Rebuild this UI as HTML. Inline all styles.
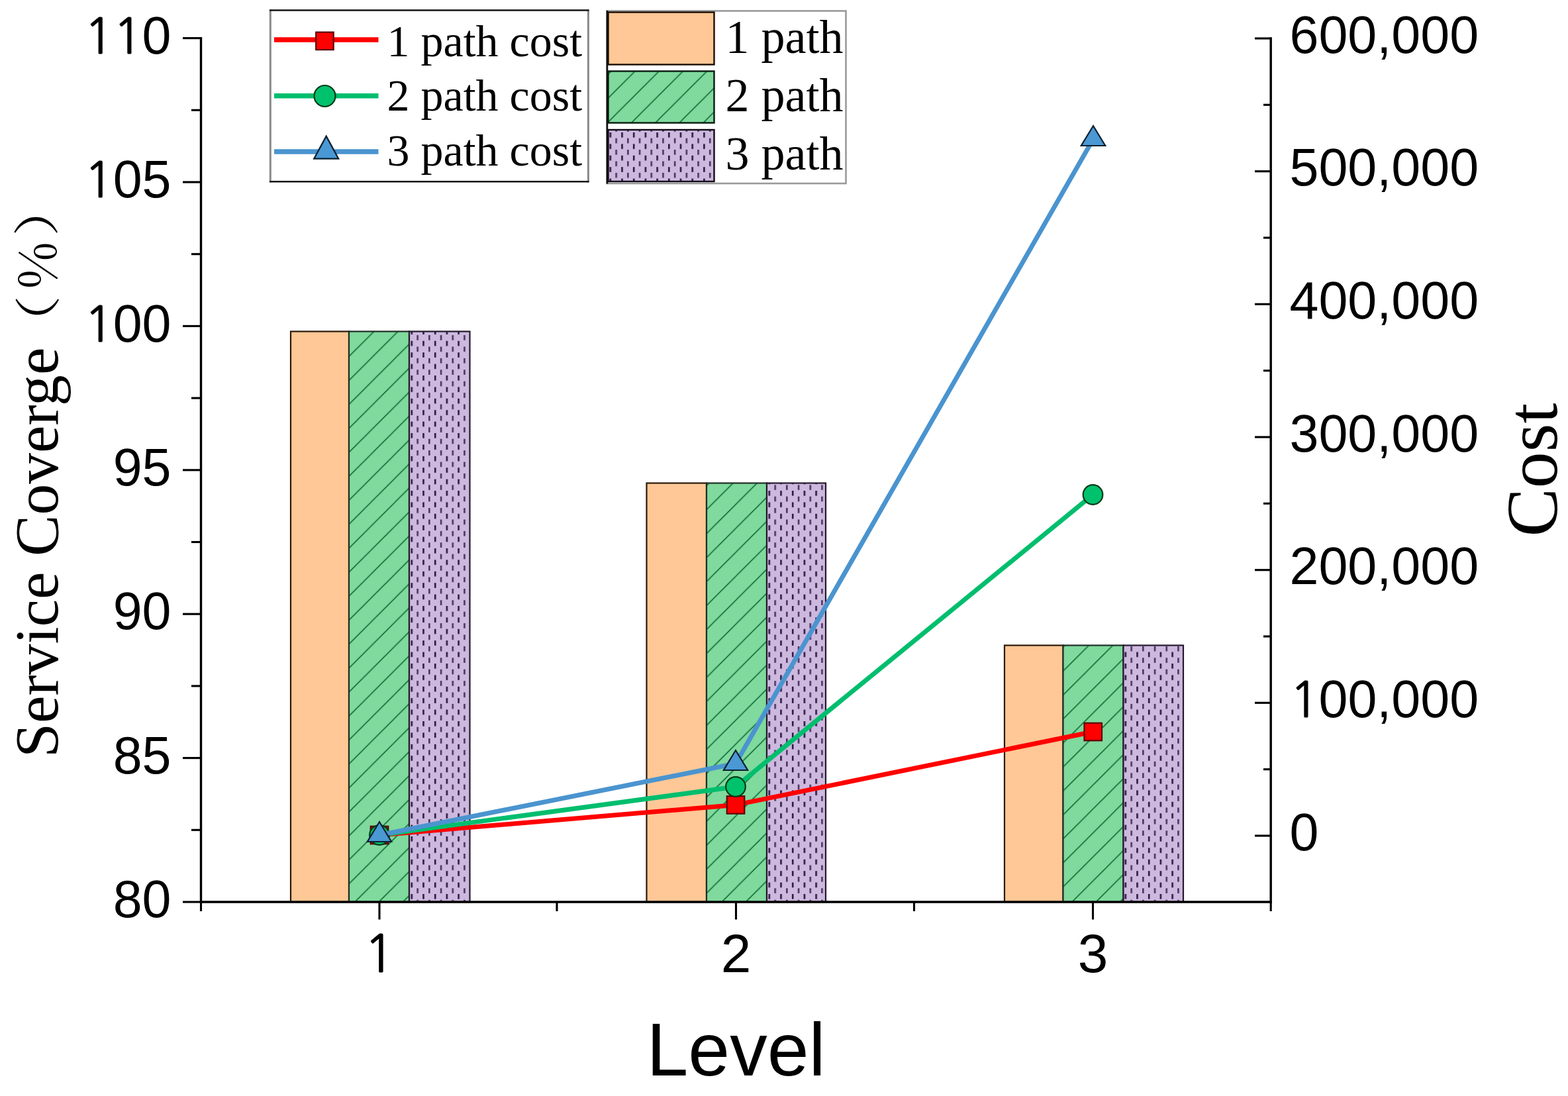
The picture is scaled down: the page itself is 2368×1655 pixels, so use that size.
<!DOCTYPE html>
<html><head><meta charset="utf-8"><title>Service Coverage and Cost by Level</title>
<style>
html,body{margin:0;padding:0;background:#fff;}
body{width:2368px;height:1655px;overflow:hidden;}
svg{display:block;}
.tl{font-family:"Liberation Sans",Arial,sans-serif;font-size:79px;fill:#000;}
.tx{font-family:"Liberation Sans",Arial,sans-serif;font-size:82px;fill:#000;}
.lg{font-family:"Liberation Serif","Times New Roman",serif;fill:#000;}
.ti{font-family:"Liberation Serif","Times New Roman",serif;fill:#000;}
.cj{font-family:"Noto Serif CJK SC","Noto Serif CJK JP",serif;fill:#000;}
</style></head><body>
<svg width="2368" height="1655" viewBox="0 0 2368 1655">
<defs>
<pattern id="hg1" patternUnits="userSpaceOnUse" width="36.2" height="36.2" patternTransform="translate(15.5 0)">
<rect width="36.2" height="36.2" fill="#80d99d"/>
<path d="M-9 9L9 -9M0 36.2L36.2 0M27.200000000000003 45.2L45.2 27.200000000000003" stroke="#10703a" stroke-width="1.6" fill="none"/>
</pattern>
<pattern id="hg2" patternUnits="userSpaceOnUse" width="36.2" height="36.2" patternTransform="translate(26.6 0)">
<rect width="36.2" height="36.2" fill="#80d99d"/>
<path d="M-9 9L9 -9M0 36.2L36.2 0M27.200000000000003 45.2L45.2 27.200000000000003" stroke="#10703a" stroke-width="1.6" fill="none"/>
</pattern>
<pattern id="hg3" patternUnits="userSpaceOnUse" width="36.2" height="36.2" patternTransform="translate(12.5 0)">
<rect width="36.2" height="36.2" fill="#80d99d"/>
<path d="M-9 9L9 -9M0 36.2L36.2 0M27.200000000000003 45.2L45.2 27.200000000000003" stroke="#10703a" stroke-width="1.6" fill="none"/>
</pattern>
<pattern id="hgL" patternUnits="userSpaceOnUse" width="36.2" height="36.2" patternTransform="translate(16.8 0)">
<rect width="36.2" height="36.2" fill="#80d99d"/>
<path d="M-9 9L9 -9M0 36.2L36.2 0M27.200000000000003 45.2L45.2 27.200000000000003" stroke="#10703a" stroke-width="1.6" fill="none"/>
</pattern>
<pattern id="pd1" patternUnits="userSpaceOnUse" width="17.7" height="17.4" patternTransform="translate(620.5 1263)">
<rect width="17.7" height="17.4" fill="#cdb8de"/>
<rect x="0" y="0" width="2.6" height="7.6" fill="#2c1842"/>
<rect x="8.85" y="8.7" width="2.6" height="7.6" fill="#4b3462"/>
</pattern>
<pattern id="pd2" patternUnits="userSpaceOnUse" width="17.7" height="17.4" patternTransform="translate(1160.5 1263)">
<rect width="17.7" height="17.4" fill="#cdb8de"/>
<rect x="0" y="0" width="2.6" height="7.6" fill="#2c1842"/>
<rect x="8.85" y="8.7" width="2.6" height="7.6" fill="#4b3462"/>
</pattern>
<pattern id="pd3" patternUnits="userSpaceOnUse" width="17.7" height="17.4" patternTransform="translate(1698.5 1263)">
<rect width="17.7" height="17.4" fill="#cdb8de"/>
<rect x="0" y="0" width="2.6" height="7.6" fill="#2c1842"/>
<rect x="8.85" y="8.7" width="2.6" height="7.6" fill="#4b3462"/>
</pattern>
<pattern id="pdL" patternUnits="userSpaceOnUse" width="17.7" height="17.4" patternTransform="translate(920.5 200)">
<rect width="17.7" height="17.4" fill="#cdb8de"/>
<rect x="0" y="0" width="2.6" height="7.6" fill="#2c1842"/>
<rect x="8.85" y="8.7" width="2.6" height="7.6" fill="#4b3462"/>
</pattern>
</defs>
<rect x="439" y="500.5" width="88" height="861.5" fill="#ffc896" stroke="#2b1a0a" stroke-width="2.2"/>
<rect x="527" y="500.5" width="91" height="861.5" fill="url(#hg1)" stroke="#1f2f25" stroke-width="2.2"/>
<rect x="618" y="500.5" width="91.5" height="861.5" fill="url(#pd1)" stroke="#241a2c" stroke-width="2.2"/>
<rect x="976.5" y="729.5" width="90.5" height="632.5" fill="#ffc896" stroke="#2b1a0a" stroke-width="2.2"/>
<rect x="1067" y="729.5" width="91" height="632.5" fill="url(#hg2)" stroke="#1f2f25" stroke-width="2.2"/>
<rect x="1158" y="729.5" width="89" height="632.5" fill="url(#pd2)" stroke="#241a2c" stroke-width="2.2"/>
<rect x="1517" y="974.5" width="88.5" height="387.5" fill="#ffc896" stroke="#2b1a0a" stroke-width="2.2"/>
<rect x="1605.5" y="974.5" width="91.0" height="387.5" fill="url(#hg3)" stroke="#1f2f25" stroke-width="2.2"/>
<rect x="1696.5" y="974.5" width="90.5" height="387.5" fill="url(#pd3)" stroke="#241a2c" stroke-width="2.2"/>
<g stroke="#000" stroke-width="3.4" fill="none" stroke-linecap="square">
<path d="M303.5 57.6V1362H1919.2V58"/>
</g>
<g stroke="#000" stroke-width="3.1" fill="none">
<path d="M276 57.6H303.5"/><path d="M289 166.3H303.5"/><path d="M276 275.0H303.5"/><path d="M289 383.7H303.5"/><path d="M276 492.4H303.5"/><path d="M289 601.1H303.5"/><path d="M276 709.8H303.5"/><path d="M289 818.5H303.5"/><path d="M276 927.2H303.5"/><path d="M289 1035.9H303.5"/><path d="M276 1144.6H303.5"/><path d="M289 1253.3H303.5"/><path d="M276 1362.0H303.5"/>
<path d="M1895 1262.0H1919.2"/><path d="M1908 1161.7H1919.2"/><path d="M1895 1061.3H1919.2"/><path d="M1908 961.0H1919.2"/><path d="M1895 860.7H1919.2"/><path d="M1908 760.3H1919.2"/><path d="M1895 660.0H1919.2"/><path d="M1908 559.7H1919.2"/><path d="M1895 459.3H1919.2"/><path d="M1908 359.0H1919.2"/><path d="M1895 258.7H1919.2"/><path d="M1908 158.3H1919.2"/><path d="M1895 58.0H1919.2"/>
<path d="M573 1362V1388.5"/><path d="M1111.5 1362V1388.5"/><path d="M1650.5 1362V1388.5"/><path d="M303.5 1362V1376"/><path d="M841 1362V1376"/><path d="M1380.5 1362V1376"/><path d="M1919.2 1362V1376"/>
</g>
<text class="tl" x="258.5" y="80.8" text-anchor="end"><tspan font-family="NanumGothic,Liberation Sans,sans-serif" font-size="74.5" stroke="#000" stroke-width="1">1</tspan><tspan font-family="NanumGothic,Liberation Sans,sans-serif" font-size="74.5" stroke="#000" stroke-width="1" dx="-1.21">1</tspan><tspan dx="-1.21">0</tspan></text>
<text class="tl" x="258.5" y="298.2" text-anchor="end"><tspan font-family="NanumGothic,Liberation Sans,sans-serif" font-size="74.5" stroke="#000" stroke-width="1">1</tspan><tspan dx="-1.21">0</tspan>5</text>
<text class="tl" x="258.5" y="515.6" text-anchor="end"><tspan font-family="NanumGothic,Liberation Sans,sans-serif" font-size="74.5" stroke="#000" stroke-width="1">1</tspan><tspan dx="-1.21">0</tspan>0</text>
<text class="tl" x="258.5" y="733.0" text-anchor="end">95</text>
<text class="tl" x="258.5" y="950.4" text-anchor="end">90</text>
<text class="tl" x="258.5" y="1167.8" text-anchor="end">85</text>
<text class="tl" x="258.5" y="1385.2" text-anchor="end">80</text>
<text class="tl" x="1947.5" y="1283.5">0</text>
<text class="tl" x="1947.5" y="1082.8"><tspan font-family="NanumGothic,Liberation Sans,sans-serif" font-size="74.5" stroke="#000" stroke-width="1">1</tspan><tspan dx="-1.21">0</tspan>0,000</text>
<text class="tl" x="1947.5" y="882.2">200,000</text>
<text class="tl" x="1947.5" y="681.5">300,000</text>
<text class="tl" x="1947.5" y="480.8">400,000</text>
<text class="tl" x="1947.5" y="280.2">500,000</text>
<text class="tl" x="1947.5" y="79.5">600,000</text>
<text class="tx" x="573" y="1468" text-anchor="middle"><tspan font-family="NanumGothic,Liberation Sans,sans-serif" font-size="77.4" stroke="#000" stroke-width="1">1</tspan></text>
<text class="tx" x="1111.5" y="1468" text-anchor="middle">2</text>
<text class="tx" x="1650.5" y="1468" text-anchor="middle">3</text>
<polyline points="573,1261 1111,1215.4 1650.7,1105" fill="none" stroke="#ff0000" stroke-width="7" stroke-linejoin="round"/>
<rect x="559.8" y="1247.8" width="26.5" height="26.5" fill="#ff0000" stroke="#5a0000" stroke-width="2.2"/>
<rect x="1097.8" y="1202.2" width="26.5" height="26.5" fill="#ff0000" stroke="#5a0000" stroke-width="2.2"/>
<rect x="1637.5" y="1091.8" width="26.5" height="26.5" fill="#ff0000" stroke="#5a0000" stroke-width="2.2"/>
<polyline points="573,1261 1111,1188 1650.5,747" fill="none" stroke="#00be6e" stroke-width="7" stroke-linejoin="round"/>
<circle cx="573" cy="1261" r="14.8" fill="#00c26c" stroke="#003a18" stroke-width="2.2"/>
<circle cx="1111" cy="1188" r="14.8" fill="#00c26c" stroke="#003a18" stroke-width="2.2"/>
<circle cx="1650.5" cy="747" r="14.8" fill="#00c26c" stroke="#003a18" stroke-width="2.2"/>
<polyline points="573,1261 1111,1153 1651,210" fill="none" stroke="#4a94cf" stroke-width="7" stroke-linejoin="round"/>
<path d="M573 1241.0L591.2 1271.0L554.8 1271.0Z" fill="#4a98d4" stroke="#0a2030" stroke-width="2.2" stroke-linejoin="miter"/>
<path d="M1111 1133.0L1129.2 1163.0L1092.8 1163.0Z" fill="#4a98d4" stroke="#0a2030" stroke-width="2.2" stroke-linejoin="miter"/>
<path d="M1651 190.0L1669.2 220.0L1632.8 220.0Z" fill="#4a98d4" stroke="#0a2030" stroke-width="2.2" stroke-linejoin="miter"/>
<rect x="408" y="15.5" width="481" height="258.5" fill="#fff"/>
<path d="M408.3 14.5V275.5M888.4 14.5V275.5" stroke="#8a8a8a" stroke-width="3"/><path d="M407 15.5H889.5M407 274.3H889.5" stroke="#151515" stroke-width="2.6"/>
<path d="M414 60H571.5" stroke="#ff0000" stroke-width="7.5"/><rect x="477.2" y="48.6" width="26.5" height="26.5" fill="#ff0000" stroke="#5a0000" stroke-width="2.2"/>
<path d="M414 144.7H571.5" stroke="#00be6e" stroke-width="7.5"/><circle cx="490.5" cy="145" r="16" fill="#00c26c" stroke="#003a18" stroke-width="2.2"/>
<path d="M414 229H571.5" stroke="#4a94cf" stroke-width="7.5"/><path d="M492.7 205.6L511.2 239.6L474.2 239.6Z" fill="#4a98d4" stroke="#0a2030" stroke-width="2.2" stroke-linejoin="miter"/>
<text class="lg" x="584.5" y="84.8" font-size="68">1 path cost</text>
<text class="lg" x="584.5" y="166.6" font-size="68">2 path cost</text>
<text class="lg" x="584.5" y="250" font-size="68">3 path cost</text>
<rect x="916.5" y="16.5" width="361" height="260.5" fill="#fff" stroke="#9a9a9a" stroke-width="2.6"/>
<path d="M917 16V277.5" stroke="#111" stroke-width="2.6"/>
<rect x="918.5" y="18.5" width="160" height="79" fill="#ffc896" stroke="#1a0d00" stroke-width="2.4"/>
<rect x="918.5" y="107.5" width="160" height="78" fill="url(#hgL)" stroke="#0a1a10" stroke-width="2.4"/>
<rect x="918.5" y="196" width="160" height="78" fill="url(#pdL)" stroke="#120a18" stroke-width="2.4"/>
<text class="lg" x="1095.5" y="80.3" font-size="72">1 path</text>
<text class="lg" x="1095.5" y="168.3" font-size="72">2 path</text>
<text class="lg" x="1095.5" y="255.8" font-size="72">3 path</text>
<text class="ti" transform="translate(86.8 1144) rotate(-90)" font-size="93.6">Service Coverge</text>
<text class="cj" transform="translate(82.7 530) rotate(-90) scale(1.2 1)" font-size="70">（</text>
<text class="cj" transform="translate(84.85 436.6) rotate(-90)" font-size="77.5">%</text>
<text class="cj" transform="translate(81.4 356.9) rotate(-90) scale(1.2 1)" font-size="70">）</text>
<text class="ti" transform="translate(2350.8 810.5) rotate(-90)" font-size="110">Cost</text>
<text x="976.5" y="1624" font-family="Liberation Sans,Arial,sans-serif" font-size="113">Level</text>
</svg>
</body></html>
